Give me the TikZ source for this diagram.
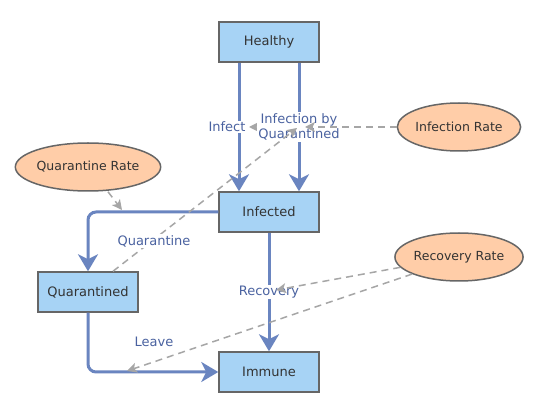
\documentclass[tikz,border=0pt]{standalone}
\usepackage{fontspec}
\setmainfont{DejaVu Sans}
\usetikzlibrary{arrows.meta,shapes.geometric}
\definecolor{boxblue}{HTML}{A7D3F5}
\definecolor{boxgray}{HTML}{666666}
\definecolor{flowblue}{HTML}{6A85C0}
\definecolor{lblblue}{HTML}{4A62A0}
\definecolor{peach}{HTML}{FFCDA8}
\definecolor{linkgray}{HTML}{A6A6A6}
\definecolor{textdark}{HTML}{333333}
\begin{document}
\begin{tikzpicture}[x=1pt,y=-1pt,
  stock/.style={draw=boxgray, fill=boxblue, line width=1.5pt, minimum width=100pt, minimum height=40pt, inner sep=0pt, font=\fontsize{13}{15}\selectfont, text=textdark},
  rate/.style={ellipse, draw=boxgray, fill=peach, line width=1.5pt, minimum width=122pt, minimum height=48pt, inner sep=0pt, font=\fontsize{12.5}{14}\selectfont, text=textdark},
  flow/.style={draw=flowblue, line width=3pt, rounded corners=8pt, -{Stealth[length=17pt,width=20pt,inset=5pt]}},
  lbl/.style={fill=white, text=lblblue, inner sep=1pt, align=center, font=\fontsize{13}{15.5}\selectfont},
  link/.style={draw=linkgray, line width=1.5pt, dash pattern=on 7pt off 5pt, -{Stealth[length=10pt,width=10pt,inset=2.5pt]}}]
\useasboundingbox[fill=white] (0,0) rectangle (547,414);

\node[stock] (healthy) at (269,42) {Healthy};
\node[stock] (infected) at (269,212) {Infected};
\node[stock] (quar) at (88,292) {Quarantined};
\node[stock] (immune) at (269,372) {Immune};
\node[rate] (irate) at (459,127) {Infection Rate};
\node[rate] (qrate) at (88,167) {Quarantine Rate};
\node[rate] (rrate) at (459,257) {Recovery Rate};

% flows
\draw[flow] ([xshift=-30pt]healthy.south) -- ([xshift=-30pt]infected.north);
\draw[flow] ([xshift=30pt]healthy.south) -- ([xshift=30pt]infected.north);
\draw[flow] (infected.west) -| (quar.north);
\draw[flow] (infected.south) -- (immune.north);
\draw[flow] (quar.south) |- (immune.west);

% link points
\coordinate (infectpt) at (249,127);
\coordinate (ibqpt) at (305,127);
\coordinate (ibqpt2) at (297,128);
\coordinate (quarpt) at (122,210);
\coordinate (recpt) at (276,290);
\coordinate (leavept) at (127,371);

% labels and links
\node[lbl] (infectlbl) at (227,127) {Infect};
\draw[link] (irate.west) -- (infectpt);
\node[lbl] (ibqlbl) at (299,127) {Infection by\\Quarantined};
\draw[link] (irate.west) -- (ibqpt);
\draw[link] ([xshift=25pt]quar.north) -- (ibqpt2);
\node[lbl] (quarlbl) at (154,241) {Quarantine};
\draw[link] ([xshift=20pt]qrate.south) -- (quarpt);
\node[lbl] (reclbl) at (269,292) {Recovery};
\draw[link] (rrate.190) -- (recpt);
\node[lbl] (leavelbl) at (154,342) {Leave};
\draw[link] (rrate.200) -- (leavept);
\end{tikzpicture}
\end{document}
